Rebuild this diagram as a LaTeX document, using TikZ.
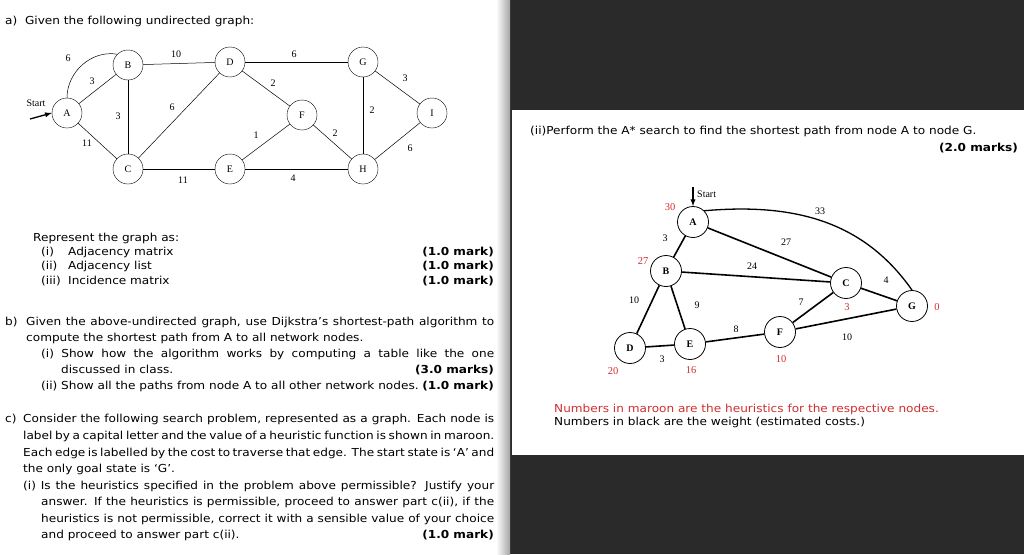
\documentclass[tikz,border=0pt]{standalone}
\usepackage{fontspec}
\setmainfont[FakeStretch=1.1]{DejaVu Sans}
\newfontfamily\gfont{Liberation Serif}
\definecolor{maroon2}{HTML}{D03030}
\definecolor{darkbg}{HTML}{2A2A2A}
\begin{document}
\begin{tikzpicture}[x=1pt,y=-1pt,
  txt/.style={anchor=base west,inner sep=0pt,font=\fontsize{11}{13}\selectfont},
  rtxt/.style={anchor=base east,inner sep=0pt,font=\fontsize{11}{13}\selectfont\bfseries},
  gnode/.style={circle,draw,fill=white,minimum size=30pt,inner sep=0pt,font=\gfont\fontsize{10}{11}\selectfont},
  anode/.style={circle,draw,fill=white,line width=0.8pt,minimum size=31pt,inner sep=0pt,font=\gfont\fontsize{10}{11}\selectfont\bfseries},
  gedge/.style={line width=0.5pt},
  aedge/.style={line width=1.6pt},
  wl/.style={inner sep=0pt,font=\gfont\fontsize{10}{11}\selectfont},
  hl/.style={inner sep=0pt,text=maroon2,font=\gfont\fontsize{10.5}{11}\selectfont}]
\useasboundingbox (0,0) rectangle (1024,554);
\fill[white] (0,0) rectangle (1024,554);
\fill[darkbg] (510,0) rectangle (1024,554);
\fill[white] (512,110) rectangle (1024,455);
\shade[left color=white,right color=gray!70] (496,0) rectangle (510,554);
% ---------- left graph ----------
\node[txt] (ta) at (5,24) {a)\ \ Given the following undirected graph:};
\node[gnode] (A) at (67,113) {A};
\node[gnode] (B) at (128,65) {B};
\node[gnode] (D) at (230,62) {D};
\node[gnode] (G) at (363,62) {G};
\node[gnode] (F) at (302,115) {F};
\node[gnode] (I) at (432,113) {I};
\node[gnode] (C) at (128,169) {C};
\node[gnode] (E) at (230,169) {E};
\node[gnode] (H) at (363,169) {H};
\draw[gedge] (A.north) to[out=90,in=170] (B.north west);
\foreach \a/\b in {A/B,A/C,B/C,B/D,C/D,C/E,D/G,D/F,E/F,E/H,F/H,G/H,G/I,H/I} \draw[gedge] (\a) -- (\b);
\foreach \p/\t in {{68,58}/6,{92,81}/3,{176,54}/10,{294,54}/6,{273,83}/2,{405,78}/3,{172,107}/6,{118,116}/3,{372,110}/2,{87,143}/11,{256,135}/1,{335,133}/2,{410,148}/6,{183,180}/11,{293,178}/4}
  \node[wl] at (\p) {\t};
\node[wl] (st) at (36,103) {Start};
\coordinate (s0) at (30,119);
\draw[line width=1.3pt,-latex] (s0) -- (A.west);
% ---------- left text ----------
\node[txt] at (33,241) {Represent the graph as:};
\node[txt] at (41,255) {(i)};   \node[txt] at (68,255) {Adjacency matrix};   \node[rtxt] at (494,255) {(1.0 mark)};
\node[txt] at (41,269) {(ii)};  \node[txt] at (68,269) {Adjacency list};     \node[rtxt] at (494,269) {(1.0 mark)};
\node[txt] at (41,284) {(iii)}; \node[txt] at (68,284) {Incidence matrix};   \node[rtxt] at (494,284) {(1.0 mark)};
\node[txt] at (5,325) {b)};
\node[txt] at (26,325) {\makebox[468pt][s]{Given the above-undirected graph, use Dijkstra’s shortest-path algorithm to}};
\node[txt] at (26,341) {compute the shortest path from A to all network nodes.};
\node[txt] at (41,357) {\makebox[453pt][s]{(i) Show how the algorithm works by computing a table like the one}};
\node[txt] at (61,373) {discussed in class.}; \node[rtxt] at (494,373) {(3.0 marks)};
\node[txt] at (41,389) {(ii) Show all the paths from node A to all other network nodes.}; \node[rtxt] at (494,389) {(1.0 mark)};
\node[txt] at (5,422) {c)};
\node[txt] at (23,422) {\makebox[471pt][s]{Consider the following search problem, represented as a graph. Each node is}};
\node[txt] at (23,439) {\makebox[471pt][s]{label by a capital letter and the value of a heuristic function is shown in maroon.}};
\node[txt] at (23,456) {\makebox[471pt][s]{Each edge is labelled by the cost to traverse that edge. The start state is ‘A’ and}};
\node[txt] at (23,472) {the only goal state is ‘G’.};
\node[txt] at (23,489) {\makebox[471pt][s]{(i) Is the heuristics specified in the problem above permissible? Justify your}};
\node[txt] at (41,505) {\makebox[453pt][s]{answer. If the heuristics is permissible, proceed to answer part c(ii), if the}};
\node[txt] at (41,522) {\makebox[453pt][s]{heuristics is not permissible, correct it with a sensible value of your choice}};
\node[txt] at (41,538) {and proceed to answer part c(ii).}; \node[rtxt] at (494,538) {(1.0 mark)};
% ---------- right panel ----------
\node[txt] at (530,134) {(ii)Perform the A* search to find the shortest path from node A to node G.};
\node[rtxt] at (1018,151) {(2.0 marks)};
\node[anode] (rA) at (693,222) {A};
\node[anode] (rB) at (666,271) {B};
\node[anode] (rC) at (846,283) {C};
\node[anode] (rG) at (912,306) {G};
\node[anode] (rF) at (780,332) {F};
\node[anode] (rE) at (690,344) {E};
\node[anode] (rD) at (630,348) {D};
\draw[line width=1.3pt] (rA.north east) to[out=5,in=125] (rG.north);
\foreach \a/\b in {rA/rB,rA/rC,rB/rC,rC/rG,rB/rD,rB/rE,rD/rE,rE/rF,rF/rC,rF/rG} \draw[aedge] (\a) -- (\b);
\foreach \p/\t in {{665,238}/3,{820,211}/33,{786,242}/27,{752,266}/24,{886,280}/4,{634,300}/10,{697,305}/9,{801,302}/7,{736,329}/8,{847,337}/10,{662,359}/3}
  \node[wl] at (\p) {\t};
\foreach \p/\t in {{670,207}/30,{643,261}/27,{847,307}/3,{937,307}/0,{781,359}/10,{691,370}/16,{613,371}/20}
  \node[hl] at (\p) {\t};
\coordinate (rs) at (693,187);
\draw[line width=1.3pt,-latex] (rs) -- (rA.north);
\node[wl,anchor=west] at (697,194) {Start};
\node[txt,text=maroon2] at (554,412) {Numbers in maroon are the heuristics for the respective nodes.};
\node[txt] at (554,425) {Numbers in black are the weight (estimated costs.)};
\end{tikzpicture}
\end{document}
